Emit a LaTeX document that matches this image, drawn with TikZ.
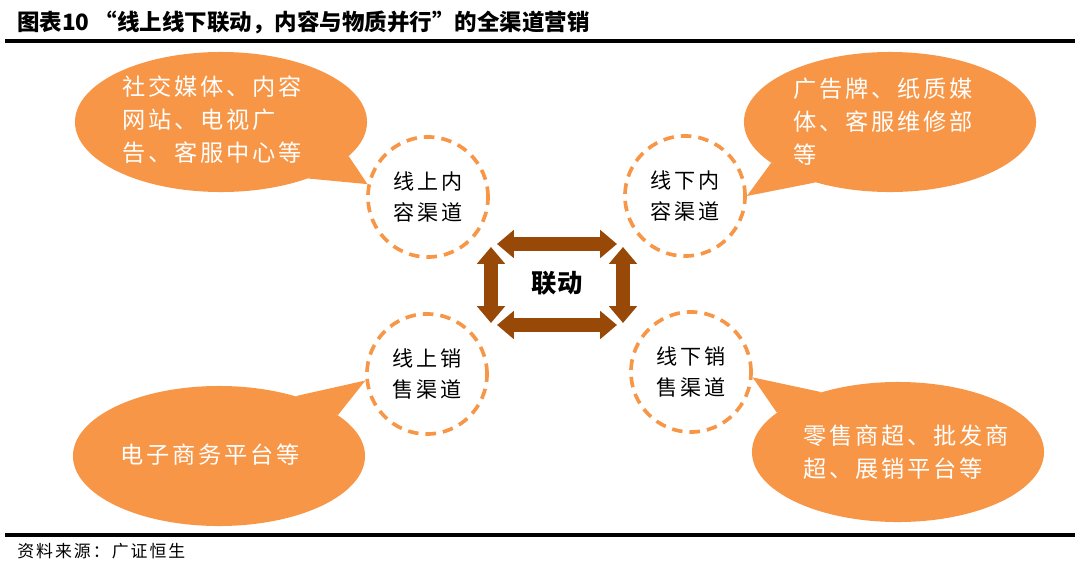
\documentclass[tikz,border=0pt]{standalone}
\usepackage{fontspec}
\setmainfont{Noto Sans CJK SC}
\newfontfamily\spaced[LetterSpace=12]{Noto Sans CJK SC}
\usetikzlibrary{shapes.geometric,arrows.meta}
\definecolor{bubble}{HTML}{F79646}
\definecolor{linkbrown}{HTML}{984807}

\begin{document}
\begin{tikzpicture}[x=0.025cm,y=-0.025cm,
    chan/.style={circle,draw=bubble,line width=2.6pt,dash pattern=on 7.5pt off 5pt,minimum size=3cm,inner sep=0pt,align=center,font=\spaced\fontsize{15}{22}\selectfont},
    bub/.style={ellipse,fill=bubble,minimum width=7.3cm,minimum height=3.5cm,inner sep=0pt},
    bubtext/.style={text=white,align=left,anchor=west,inner sep=0pt,font=\spaced\fontsize{16.5}{23.5}\selectfont},
    dbl/.style={linkbrown,line width=0.35cm,{Triangle[length=0.42cm,width=0.68cm]}-{Triangle[length=0.42cm,width=0.68cm]}}]
        \useasboundingbox (0,0) rectangle (1080,580);

        % title and rules
        \node[anchor=west,inner sep=0pt,font=\bfseries\fontsize{16}{16}\selectfont] (title) at (17,22) {图表10 “线上线下联动，内容与物质并行”的全渠道营销};
        \draw[line width=3pt] (5,41)--(1075,41);
        \draw[line width=2.4pt] (5,535)--(1075,535);
        \node[anchor=west,inner sep=0pt,font=\spaced\fontsize{12}{12}\selectfont] (source) at (17,551) {资料来源：广证恒生};

        % speech bubbles
        \node[bub] (tlb) at (221,122) {};
        \node[bub] (trb) at (890,122) {};
        \node[bub] (blb) at (219,456) {};
        \node[bub] (brb) at (898,452) {};

        % channels
        \node[chan] (tlc) at (428,197) {线上内\\容渠道};
        \node[chan] (trc) at (685,196) {线下内\\容渠道};
        \node[chan] (blc) at (427,374) {线上销\\售渠道};
        \node[chan] (brc) at (691,372) {线下销\\售渠道};

        % tails
        \fill[bubble] (tlb.-15)--(tlc.168)--(tlb.-33)--cycle;
        \fill[bubble] (trb.199)--(trc.0)--(trb.219)--cycle;
        \fill[bubble] (blb.38)--(blc.186)--(blb.19)--cycle;
        \fill[bubble] (brb.142)--(brc.-5)--(brb.162)--cycle;

        \node[bubtext] (tlt) at (122,120) {社交媒体、内容\\网站、电视广\\告、客服中心等};
        \node[bubtext] (trt) at (793,122) {广告牌、纸质媒\\体、客服维修部\\等};
        \node[bubtext] (blt) at (120,455) {电子商务平台等};
        \node[bubtext] (brt) at (803,452) {零售商超、批发商\\超、展销平台等};

        % linkage
        \node[font=\bfseries\fontsize{18}{18}\selectfont] (link) at (557,283) {联动};
        \coordinate (tw) at (497,244); \coordinate (te) at (617,244);
        \coordinate (bw) at (497,325); \coordinate (be) at (617,325);
        \coordinate (wn) at (491,247); \coordinate (ws) at (491,323);
        \coordinate (en) at (623,247); \coordinate (es) at (623,323);
        \draw[dbl](tw)--(te);
        \draw[dbl](bw)--(be);
        \draw[dbl](wn)--(ws);
        \draw[dbl](en)--(es);
    \end{tikzpicture}
\end{document}
